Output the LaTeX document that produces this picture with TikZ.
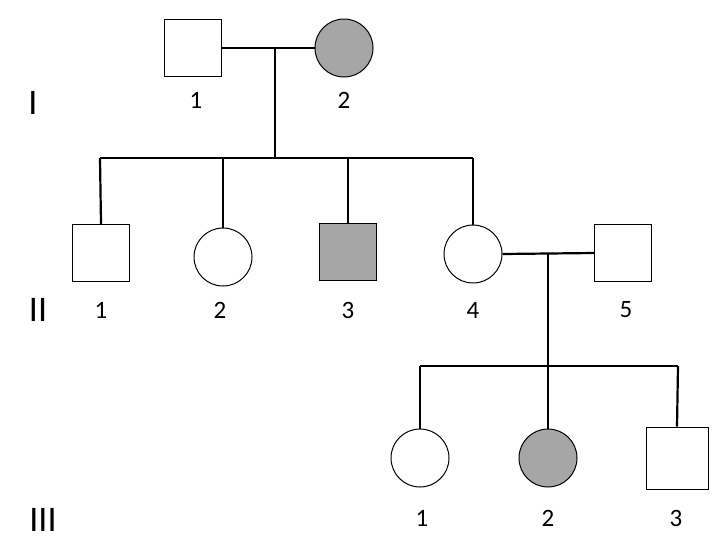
\documentclass[tikz,border=0pt]{standalone}
\usepackage{fontspec}
\setmainfont{Carlito}
\begin{document}
\begin{tikzpicture}[x=1pt,y=-1pt,
  sq/.style={draw,line width=1pt,minimum size=57pt,inner sep=0pt},
  ci/.style={draw,line width=1pt,circle,minimum size=58pt,inner sep=0pt},
  aff/.style={fill=gray!70},
  ln/.style={line width=2.2pt},
  lb/.style={font=\fontsize{25}{27}\selectfont},
  gl/.style={font=\fontsize{36}{38}\selectfont}]
\useasboundingbox (0,0) rectangle (725,547);
\node[sq] (a1) at (193,48) {};
\node[ci,aff] (a2) at (344,48) {};
\node[lb] at (196,100) {1};
\node[lb] at (344,100) {2};
\node[gl] at (33,103) {I};
\coordinate (m1) at (275,48);
\coordinate (s1) at (275,158);
\draw[ln] (a1.east) -- (a2.west);
\draw[ln] (m1) -- (s1);
\node[sq] (b1) at (101,253) {};
\node[ci] (b2) at (223,257) {};
\node[sq,aff] (b3) at (348,252) {};
\node[ci] (b4) at (473,254) {};
\node[sq] (b5) at (623,253) {};
\draw[ln] (100,158) -- (473,158);
\draw[ln] (100,158) -- (b1.north);
\draw[ln] (223,158) -- (b2.north);
\draw[ln] (348,158) -- (b3.north);
\draw[ln] (473,158) -- (b4.north);
\draw[ln] (b4.east) -- (b5.west);
\coordinate (m2) at (548,254);
\draw[ln] (m2) -- (548,366);
\draw[ln] (420,366) -- (678,366);
\foreach \x/\t in {101/1,220/2,348/3,473/4,626/5} \node[lb] at (\x,310) {\t};
\node[gl] at (38,310) {II};
\node[ci] (c1) at (420,458) {};
\node[ci,aff] (c2) at (548,458) {};
\node[sq,minimum size=62pt] (c3) at (677,458) {};
\draw[ln] (420,366) -- (c1.north);
\draw[ln] (548,366) -- (c2.north);
\draw[ln] (678,366) -- (c3.north);
\foreach \x/\t in {422/1,548/2,676/3} \node[lb] at (\x,518) {\t};
\node[gl] at (43,520) {III};
\end{tikzpicture}
\end{document}
